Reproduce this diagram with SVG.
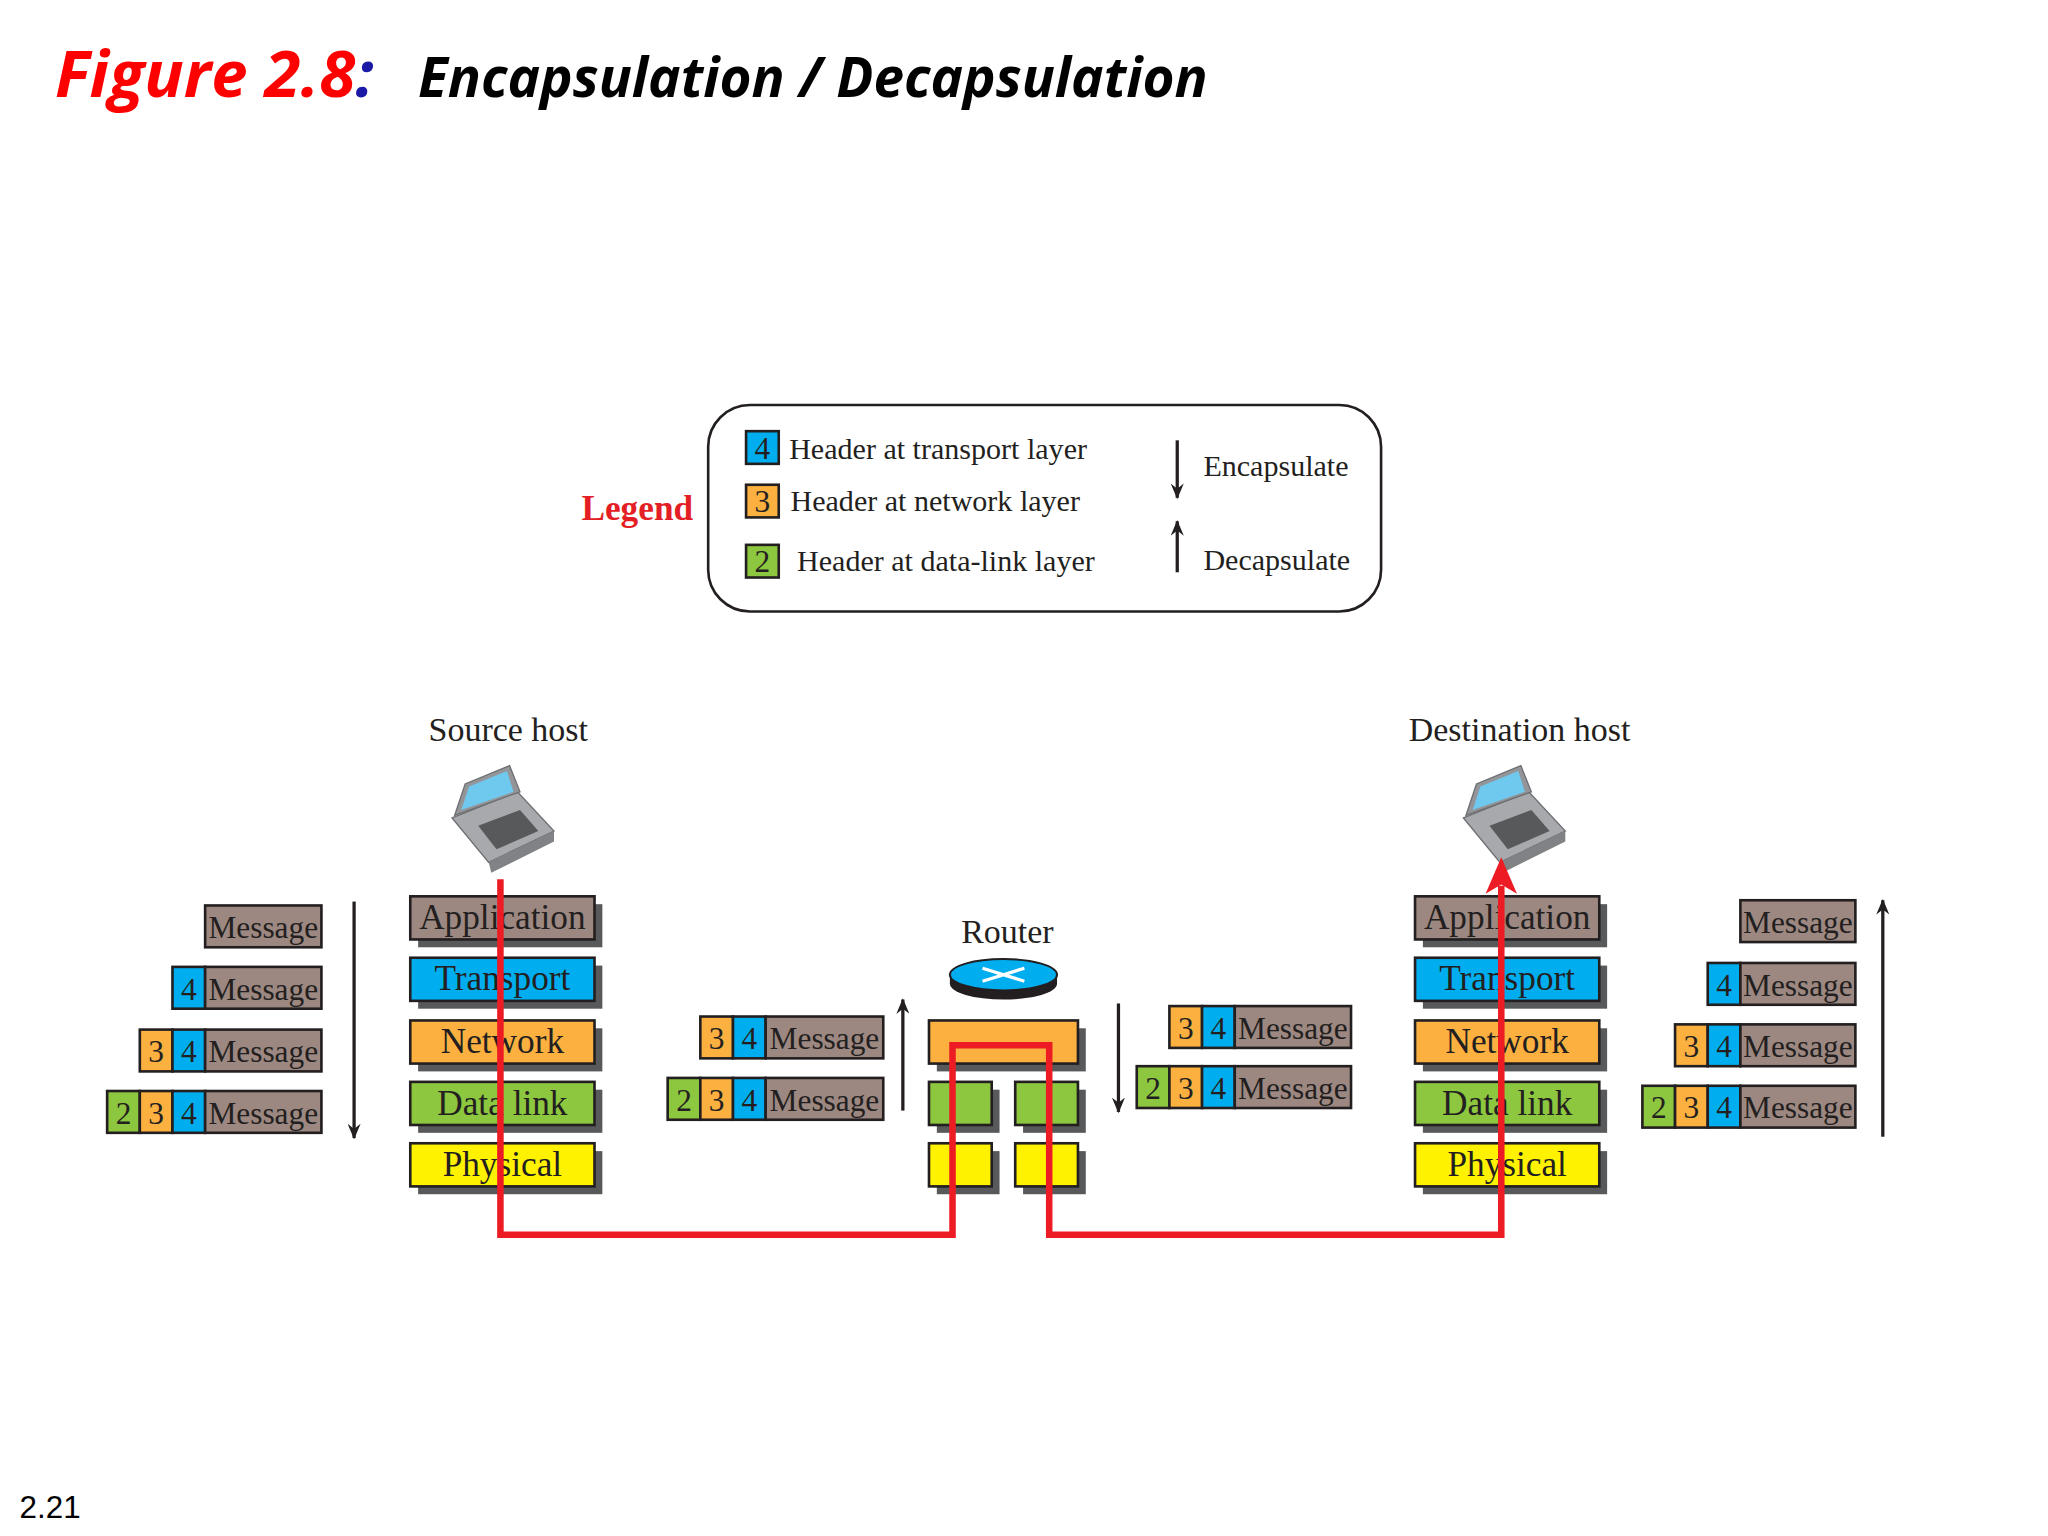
<svg xmlns="http://www.w3.org/2000/svg" width="2048" height="1536" viewBox="0 0 2048 1536">
<style>
.s{font-family:"Liberation Serif","Times New Roman",serif;fill:#231f20}
.b{stroke:#231f20;stroke-width:2}
.br{fill:#9c8880}.bl{fill:#00aeef}.or{fill:#fbb040}.gr{fill:#8dc63f}.ye{fill:#fff200}
.sh{fill:#58595b}
.lt{font-size:27px}
.mt{font-size:24px}
.lg{font-size:23px}
.ar{stroke:#231f20;stroke-width:2.5;fill:none}
</style>
<defs>
<marker id="ah" markerWidth="12" markerHeight="10" refX="11" refY="5" orient="auto" markerUnits="userSpaceOnUse" viewBox="0 0 12 10"><path d="M0,0 L12,5 L0,10 L4,5 Z" fill="#231f20"/></marker>
<marker id="rh" markerWidth="28" markerHeight="24" refX="6" refY="12" orient="auto" markerUnits="userSpaceOnUse" viewBox="0 0 28 24"><path d="M0,0 L28,12 L0,24 L7,12 Z" fill="#ed1c24"/></marker>
<g id="laptop">
<polygon points="0,28 50,8 78,38 28,62" fill="#a7a9ac" stroke="#6d6e71"/>
<polygon points="28,62 78,38 78,46 30,70" fill="#808285"/>
<polygon points="2,26 10,2 44,-12 52,8" fill="#939598" stroke="#6d6e71"/>
<polygon points="7,22 13,4 42,-8 47,8" fill="#6fc8ee"/>
<polygon points="20,34 52,22 66,38 34,52" fill="#58595b"/>
</g>
</defs>
<rect width="2048" height="1536" fill="#fff"/>
<g transform="scale(1.3066)">
<g id="title" style="font-family:'Open Sans','DejaVu Sans',sans-serif;font-weight:bold;font-style:italic">
<text x="42" y="74" font-size="50" fill="#ff0000">Figure 2.8<tspan fill="#1a1aa6">:</tspan></text>
<text x="320" y="74" font-size="42" fill="#000">Encapsulation / Decapsulation</text>
</g>
<g id="legend">
<text x="445" y="398" class="s" style="font-size:27px;font-weight:bold;fill:#e31e24">Legend</text>
<rect x="542" y="310" width="515" height="158" rx="32" fill="#fff" stroke="#231f20" stroke-width="2"/>
<rect x="571" y="330" width="25" height="25" class="bl b"/><text x="583.5" y="351" text-anchor="middle" class="s mt">4</text>
<text x="604" y="351" class="s lg">Header at transport layer</text>
<rect x="571" y="371" width="25" height="25" class="or b"/><text x="583.5" y="392" text-anchor="middle" class="s mt">3</text>
<text x="605" y="391" class="s lg">Header at network layer</text>
<rect x="571" y="417" width="25" height="25" class="gr b"/><text x="583.5" y="438" text-anchor="middle" class="s mt">2</text>
<text x="610" y="437" class="s lg">Header at data-link layer</text>
<line x1="901" y1="337" x2="901" y2="381" class="ar" marker-end="url(#ah)"/>
<text x="921" y="364" class="s lg">Encapsulate</text>
<line x1="901" y1="438" x2="901" y2="399" class="ar" marker-end="url(#ah)"/>
<text x="921" y="436" class="s lg">Decapsulate</text>
</g>
<g id="source-host">
<text x="389" y="567" text-anchor="middle" class="s" font-size="26">Source host</text>
<use href="#laptop" x="346" y="598"/>
<rect x="320" y="692" width="141" height="33" class="sh"/><rect x="314" y="686" width="141" height="33" class="br b"/><text x="384.5" y="711" text-anchor="middle" class="s lt">Application</text>
<rect x="320" y="739" width="141" height="33" class="sh"/><rect x="314" y="733" width="141" height="33" class="bl b"/><text x="384.5" y="758" text-anchor="middle" class="s lt">Transport</text>
<rect x="320" y="787" width="141" height="33" class="sh"/><rect x="314" y="781" width="141" height="33" class="or b"/><text x="384.5" y="806" text-anchor="middle" class="s lt">Network</text>
<rect x="320" y="834" width="141" height="33" class="sh"/><rect x="314" y="828" width="141" height="33" class="gr b"/><text x="384.5" y="853" text-anchor="middle" class="s lt">Data link</text>
<rect x="320" y="881" width="141" height="33" class="sh"/><rect x="314" y="875" width="141" height="33" class="ye b"/><text x="384.5" y="900" text-anchor="middle" class="s lt">Physical</text>
</g>
<g id="source-messages">
<rect x="157" y="693" width="89" height="32" class="br b"/><text x="201.5" y="718" text-anchor="middle" class="s mt">Message</text>
<rect x="132" y="740" width="25" height="32" class="bl b"/><text x="144.5" y="765" text-anchor="middle" class="s mt">4</text>
<rect x="157" y="740" width="89" height="32" class="br b"/><text x="201.5" y="765" text-anchor="middle" class="s mt">Message</text>
<rect x="107" y="788" width="25" height="32" class="or b"/><text x="119.5" y="813" text-anchor="middle" class="s mt">3</text>
<rect x="132" y="788" width="25" height="32" class="bl b"/><text x="144.5" y="813" text-anchor="middle" class="s mt">4</text>
<rect x="157" y="788" width="89" height="32" class="br b"/><text x="201.5" y="813" text-anchor="middle" class="s mt">Message</text>
<rect x="82" y="835" width="25" height="32" class="gr b"/><text x="94.5" y="860" text-anchor="middle" class="s mt">2</text>
<rect x="107" y="835" width="25" height="32" class="or b"/><text x="119.5" y="860" text-anchor="middle" class="s mt">3</text>
<rect x="132" y="835" width="25" height="32" class="bl b"/><text x="144.5" y="860" text-anchor="middle" class="s mt">4</text>
<rect x="157" y="835" width="89" height="32" class="br b"/><text x="201.5" y="860" text-anchor="middle" class="s mt">Message</text>
<line x1="271" y1="690" x2="271" y2="871" class="ar" marker-end="url(#ah)"/>
</g>
<g id="router">
<text x="771" y="722" text-anchor="middle" class="s" font-size="26">Router</text>
<ellipse cx="768" cy="753" rx="41" ry="12" fill="#231f20"/>
<rect x="727" y="746" width="82" height="7" fill="#231f20"/>
<ellipse cx="768" cy="746" rx="41" ry="12" fill="#00aeef" stroke="#231f20" stroke-width="1.5"/>
<path d="M752,741 L784,751 M752,751 L784,741" stroke="#fff" stroke-width="2.5"/>
<rect x="717" y="787" width="114" height="33" class="sh"/><rect x="711" y="781" width="114" height="33" class="or b"/>
<rect x="717" y="834" width="48" height="33" class="sh"/><rect x="711" y="828" width="48" height="33" class="gr b"/>
<rect x="783" y="834" width="48" height="33" class="sh"/><rect x="777" y="828" width="48" height="33" class="gr b"/>
<rect x="717" y="881" width="48" height="33" class="sh"/><rect x="711" y="875" width="48" height="33" class="ye b"/>
<rect x="783" y="881" width="48" height="33" class="sh"/><rect x="777" y="875" width="48" height="33" class="ye b"/>
</g>
<g id="router-in-messages">
<rect x="536" y="778" width="25" height="32" class="or b"/><text x="548.5" y="803" text-anchor="middle" class="s mt">3</text>
<rect x="561" y="778" width="25" height="32" class="bl b"/><text x="573.5" y="803" text-anchor="middle" class="s mt">4</text>
<rect x="586" y="778" width="90" height="32" class="br b"/><text x="631" y="803" text-anchor="middle" class="s mt">Message</text>
<rect x="511" y="825" width="25" height="32" class="gr b"/><text x="523.5" y="850" text-anchor="middle" class="s mt">2</text>
<rect x="536" y="825" width="25" height="32" class="or b"/><text x="548.5" y="850" text-anchor="middle" class="s mt">3</text>
<rect x="561" y="825" width="25" height="32" class="bl b"/><text x="573.5" y="850" text-anchor="middle" class="s mt">4</text>
<rect x="586" y="825" width="90" height="32" class="br b"/><text x="631" y="850" text-anchor="middle" class="s mt">Message</text>
<line x1="691" y1="850" x2="691" y2="765" class="ar" marker-end="url(#ah)"/>
</g>
<g id="router-out-messages">
<line x1="856" y1="768" x2="856" y2="851" class="ar" marker-end="url(#ah)"/>
<rect x="895" y="770" width="25" height="32" class="or b"/><text x="907.5" y="795" text-anchor="middle" class="s mt">3</text>
<rect x="920" y="770" width="25" height="32" class="bl b"/><text x="932.5" y="795" text-anchor="middle" class="s mt">4</text>
<rect x="945" y="770" width="89" height="32" class="br b"/><text x="989.5" y="795" text-anchor="middle" class="s mt">Message</text>
<rect x="870" y="816" width="25" height="32" class="gr b"/><text x="882.5" y="841" text-anchor="middle" class="s mt">2</text>
<rect x="895" y="816" width="25" height="32" class="or b"/><text x="907.5" y="841" text-anchor="middle" class="s mt">3</text>
<rect x="920" y="816" width="25" height="32" class="bl b"/><text x="932.5" y="841" text-anchor="middle" class="s mt">4</text>
<rect x="945" y="816" width="89" height="32" class="br b"/><text x="989.5" y="841" text-anchor="middle" class="s mt">Message</text>
</g>
<g id="destination-host">
<text x="1163" y="567" text-anchor="middle" class="s" font-size="26">Destination host</text>
<use href="#laptop" x="1120" y="598"/>
<rect x="1089" y="692" width="141" height="33" class="sh"/><rect x="1083" y="686" width="141" height="33" class="br b"/><text x="1153.5" y="711" text-anchor="middle" class="s lt">Application</text>
<rect x="1089" y="739" width="141" height="33" class="sh"/><rect x="1083" y="733" width="141" height="33" class="bl b"/><text x="1153.5" y="758" text-anchor="middle" class="s lt">Transport</text>
<rect x="1089" y="787" width="141" height="33" class="sh"/><rect x="1083" y="781" width="141" height="33" class="or b"/><text x="1153.5" y="806" text-anchor="middle" class="s lt">Network</text>
<rect x="1089" y="834" width="141" height="33" class="sh"/><rect x="1083" y="828" width="141" height="33" class="gr b"/><text x="1153.5" y="853" text-anchor="middle" class="s lt">Data link</text>
<rect x="1089" y="881" width="141" height="33" class="sh"/><rect x="1083" y="875" width="141" height="33" class="ye b"/><text x="1153.5" y="900" text-anchor="middle" class="s lt">Physical</text>
</g>
<g id="destination-messages">
<rect x="1332" y="689" width="88" height="32" class="br b"/><text x="1376" y="714" text-anchor="middle" class="s mt">Message</text>
<rect x="1307" y="737" width="25" height="32" class="bl b"/><text x="1319.5" y="762" text-anchor="middle" class="s mt">4</text>
<rect x="1332" y="737" width="88" height="32" class="br b"/><text x="1376" y="762" text-anchor="middle" class="s mt">Message</text>
<rect x="1282" y="784" width="25" height="32" class="or b"/><text x="1294.5" y="809" text-anchor="middle" class="s mt">3</text>
<rect x="1307" y="784" width="25" height="32" class="bl b"/><text x="1319.5" y="809" text-anchor="middle" class="s mt">4</text>
<rect x="1332" y="784" width="88" height="32" class="br b"/><text x="1376" y="809" text-anchor="middle" class="s mt">Message</text>
<rect x="1257" y="831" width="25" height="32" class="gr b"/><text x="1269.5" y="856" text-anchor="middle" class="s mt">2</text>
<rect x="1282" y="831" width="25" height="32" class="or b"/><text x="1294.5" y="856" text-anchor="middle" class="s mt">3</text>
<rect x="1307" y="831" width="25" height="32" class="bl b"/><text x="1319.5" y="856" text-anchor="middle" class="s mt">4</text>
<rect x="1332" y="831" width="88" height="32" class="br b"/><text x="1376" y="856" text-anchor="middle" class="s mt">Message</text>
<line x1="1441" y1="870" x2="1441" y2="689" class="ar" marker-end="url(#ah)"/>
</g>
<g id="connectors">
<path d="M383,673 V945 H729 V800 H803 V945 H1149 V678" fill="none" stroke="#ed1c24" stroke-width="5" marker-end="url(#rh)"/>
</g>
<text x="15" y="1162" font-family="Liberation Sans,Arial,sans-serif" font-size="24" fill="#000">2.21</text>
</g>
</svg>
